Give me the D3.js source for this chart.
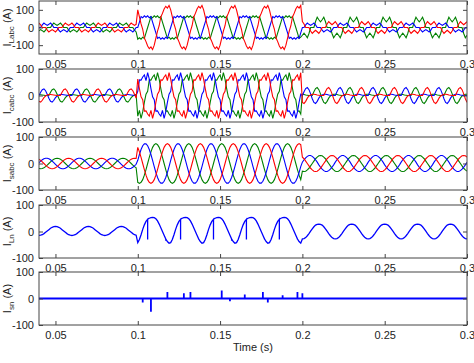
<!DOCTYPE html>
<html>
<head>
<meta charset="utf-8">
<script src="https://cdn.jsdelivr.net/npm/d3@7/dist/d3.min.js"></script>
<style>
  body { margin: 0; background: #fff; }
  text { font-family: "Liberation Sans", Arial, sans-serif; fill: #222; }
</style>
</head>
<body>
<script>
// time axis (s) and ticks
var xTicks = [0.05, 0.1, 0.15, 0.2, 0.25, 0.3];
var yTicks = [-100, 0, 100];

// every phase current is given as one 20 ms cycle sampled each 1 ms
// (sample k = t mod 20 ms), for the three parts: t<0.1, 0.1-0.2, t>0.2
var iLa = [[25,15,0,0,0,-15,-25,-18,-12,-18,-25,-15,0,0,0,15,25,18,12,18],
           [100,60,20,-10,-60,-80,-105,-120,-110,-125,-100,-60,-20,10,60,80,105,120,110,125],
           [33,20,0,0,0,-20,-33,-24,-16,-24,-33,-20,0,0,0,20,33,24,16,24]];
var iLb = [[0,0,15,25,18,12,18,25,15,0,0,0,-15,-25,-18,-12,-18,-25,-15,0],
           [0,30,62,55,66,58,66,55,62,30,0,-30,-62,-55,-66,-58,-66,-55,-62,-30],
           [0,0,15,25,18,12,18,25,15,0,0,0,-15,-25,-18,-12,-18,-25,-15,0]];
var iLc = [[-18,-12,-18,-25,-15,0,0,0,15,25,18,12,18,25,15,0,0,0,-15,-25],
           [-66,-58,-66,-55,-62,-30,0,30,62,55,66,58,66,55,62,30,0,-30,-62,-55],
           [-44,-32,-44,-58,-34,0,0,0,34,58,44,32,44,58,34,0,0,0,-34,-58]];

var iCa = [[-22,-25,-18,-8,-2,2,4,4,3,2,1,0,0,0,12,22,25,18,5,-10],
           [62,26,-5,-16,-59,-58,-70,-78,-56,-86,-62,-26,5,16,59,58,70,78,56,86],
           [-26,-30,-22,-10,-2,2,5,5,4,2,1,0,0,0,14,26,30,22,6,-12]];
var iCb = [[0,12,22,25,18,5,-10,-22,-25,-18,-8,-2,2,4,4,3,2,1,0,0],
           [16,59,58,70,78,56,86,62,26,-5,-16,-59,-58,-70,-78,-56,-86,-62,-26,5],
           [0,14,26,30,22,6,-12,-26,-30,-22,-10,-2,2,5,5,4,2,1,0,0]];
var iCc = [[4,3,2,1,0,0,0,12,22,25,18,5,-10,-22,-25,-18,-8,-2,2,4],
           [-78,-56,-86,-62,-26,5,16,59,58,70,78,56,86,62,26,-5,-16,-59,-58,-70],
           [5,4,2,1,0,0,0,14,26,30,22,6,-12,-26,-30,-22,-10,-2,2,5]];

var iSa = [[16,12,6,0,-6,-12,-16,-19,-20,-19,-16,-12,-6,0,6,12,16,19,20,19],
           [61,44,23,0,-23,-44,-61,-71,-75,-71,-61,-44,-23,0,23,44,61,71,75,71],
           [24,18,9,0,-9,-18,-24,-29,-30,-29,-24,-18,-9,0,9,18,24,29,30,29]];
var iSb = [[3,9,14,18,20,20,18,14,9,3,-3,-9,-14,-18,-20,-20,-18,-14,-9,-3],
           [12,34,53,67,74,74,67,53,34,12,-12,-34,-53,-67,-74,-74,-67,-53,-34,-12],
           [5,14,21,27,30,30,27,21,14,5,-5,-14,-21,-27,-30,-30,-27,-21,-14,-5]];
var iSc = [[-19,-20,-19,-16,-12,-6,0,6,12,16,19,20,19,16,12,6,0,-6,-12,-16],
           [-71,-75,-71,-61,-44,-23,0,23,44,61,71,75,71,61,44,23,0,-23,-44,-61],
           [-29,-30,-29,-24,-18,-9,0,9,18,24,29,30,29,24,18,9,0,-9,-18,-24]];

var iLn = [[-15,-14,-12,-8,-3,2,7,12,16,18,19,18,16,12,7,2,-3,-8,-12,-14],
           [-42,-30,-12,8,25,38,46,50,52,53,52,48,40,28,14,0,-14,-28,-38,-44],
           [-28,-27,-23,-16,-8,1,10,18,24,27,28,27,24,18,10,1,-8,-16,-23,-27]];
// short switching spikes [time s, tip value A]
var iLnSpikes = [[0.106,-30],[0.117,-35],[0.126,-30],[0.137,-30],[0.146,-30],[0.157,-35],
                 [0.166,-30],[0.177,-30],[0.186,-30],[0.197,-30]];
var iSn = [[0,0,0,0,0,0,0,0,0,0,0,0,0,0,0,0,0,0,0,0],
           [0,0,0,0,0,0,0,0,0,0,0,0,0,0,0,0,0,0,0,0],
           [0,0,0,0,0,0,0,0,0,0,0,0,0,0,0,0,0,0,0,0]];
var iSnSpikes = [[0.103,-15],[0.108,-50],[0.118,25],[0.128,20],[0.132,25],[0.151,30],
                 [0.156,-10],[0.165,15],[0.176,25],[0.179,-15],[0.188,12],[0.197,25],[0.2,20]];

var width = 474, height = 363;
var left = 39, right = 467;
var panels = [
  {sub: "Labc", lim: 150, top: 1,   series: [[iLc, "#008000"], [iLb, "#0000ff"], [iLa, "#ff0000"]]},
  {sub: "cabc", lim: 100, top: 69,  series: [[iCc, "#008000"], [iCb, "#0000ff"], [iCa, "#ff0000"]]},
  {sub: "sabc", lim: 100, top: 137, series: [[iSc, "#008000"], [iSb, "#0000ff"], [iSa, "#ff0000"]]},
  {sub: "Ln",   lim: 100, top: 205, series: [[iLn, "#0000ff", iLnSpikes]], sw: 1.3},
  {sub: "sn",   lim: 100, top: 272, series: [[iSn, "#0000ff", iSnSpikes]], sw: 1.8}
];
var ph = 53;

var svg = d3.select("body").append("svg")
    .attr("width", width)
    .attr("height", height);

var x = d3.scaleLinear().domain([0.04, 0.3]).range([left, right]);

// build the sample list of one series from its cycles (+ spikes)
function samples(cycles, spikes) {
  var pts = [];
  for (var ms = 40; ms <= 300; ms++) {
    var part = ms < 100 ? 0 : (ms < 200 ? 1 : 2);
    var v = cycles[part][ms % 20];
    pts.push([ms / 1000, v]);
    (spikes || []).forEach(function(s) {
      if (Math.round(s[0] * 1000) === ms) {
        pts.push([ms / 1000, s[1]]);
        pts.push([ms / 1000, v]);
      }
    });
  }
  return pts;
}

panels.forEach(function(p, i) {
  var y = d3.scaleLinear().domain([-p.lim, p.lim]).range([p.top + ph, p.top]);
  var g = svg.append("g");

  g.append("clipPath").attr("id", "clip" + i)
    .append("rect")
      .attr("x", left).attr("y", p.top)
      .attr("width", right - left).attr("height", ph);

  var line = d3.line()
      .x(function(d) { return x(d[0]); })
      .y(function(d) { return y(d[1]); });

  p.series.forEach(function(s) {
    g.append("path")
      .attr("clip-path", "url(#clip" + i + ")")
      .attr("d", line(samples(s[0], s[2])))
      .attr("fill", "none")
      .attr("stroke", s[1])
      .attr("stroke-width", p.sw || 1.1);
  });

  // axes, MATLAB style: ticks pointing inward on all four sides
  var axB = g.append("g").attr("transform", "translate(0," + (p.top + ph) + ")")
      .call(d3.axisBottom(x).tickValues(xTicks).tickSize(-4).tickPadding(6)
            .tickFormat(d3.format("~g")));
  var axT = g.append("g").attr("transform", "translate(0," + p.top + ")")
      .call(d3.axisTop(x).tickValues(xTicks).tickSize(-4).tickFormat(""));
  var axL = g.append("g").attr("transform", "translate(" + left + ",0)")
      .call(d3.axisLeft(y).tickValues(yTicks).tickSize(-4).tickPadding(5)
            .tickFormat(d3.format("d")));
  var axR = g.append("g").attr("transform", "translate(" + right + ",0)")
      .call(d3.axisRight(y).tickValues(yTicks).tickSize(-4).tickFormat(""));
  [axB, axT, axL, axR].forEach(function(a) {
    a.select(".domain").remove();
    a.selectAll("line").attr("stroke", "#444");
    a.selectAll("text").style("font-size", "11px").attr("fill", "#222")
      .style("font-family", "'Liberation Sans', Arial, sans-serif");
  });
  axL.selectAll("text").text(function(d) { return d < 0 ? "-" + (-d) : d; });

  g.append("rect")
    .attr("x", left).attr("y", p.top)
    .attr("width", right - left).attr("height", ph)
    .attr("fill", "none").attr("stroke", "#444").attr("stroke-width", 1);

  var lab = g.append("text")
    .attr("transform", "translate(11," + (p.top + ph / 2) + ") rotate(-90)")
    .attr("text-anchor", "middle")
    .style("font-size", "11px");
  lab.append("tspan").text("I");
  lab.append("tspan").attr("dy", 3).style("font-size", "8px").text(p.sub);
  lab.append("tspan").attr("dy", -3).text(" (A)");
});

svg.append("text")
  .attr("x", (left + right) / 2).attr("y", 351)
  .attr("text-anchor", "middle")
  .style("font-size", "11px")
  .text("Time (s)");
</script>
</body>
</html>
